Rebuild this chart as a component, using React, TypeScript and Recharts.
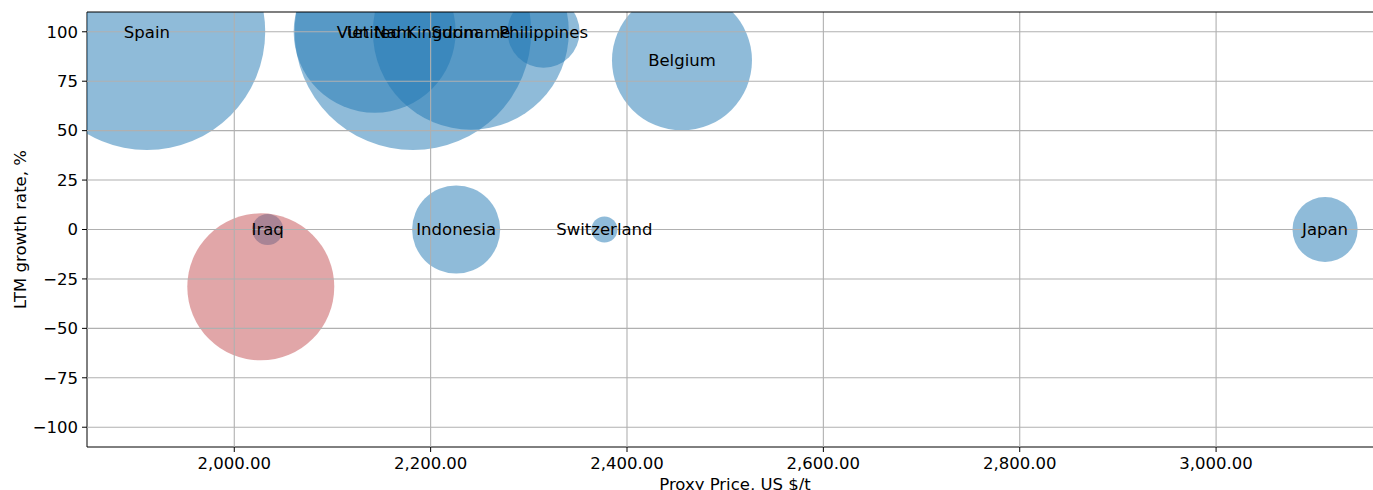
import {
  LabelList,
  ReferenceLine,
  Scatter,
  ScatterChart,
  XAxis,
  YAxis,
  ZAxis,
} from "recharts";

// countries with their proxy price (US $/t), LTM growth (%) and bubble size (volume)
const countries = [
  "Spain",
  "Viet Nam",
  "United Kingdom",
  "Suriname",
  "Philippines",
  "Belgium",
  "Indonesia",
  "Iraq",
  "Switzerland",
  "Japan",
];
const prices = [1911, 2143, 2182, 2241, 2315, 2456, 2226, 2034, 2377, 3111];
const growth = [100, 100, 100, 100, 100, 85.5, 0, 0, 0, 0];
const volumes = [14000, 6560, 14000, 9600, 1300, 4900, 1940, 240, 170, 1060];

// the declining bubble (no label in the source)
const declinePrices = [2027];
const declineGrowth = [-29];
const declineVolumes = [5400];

const xTicks = [2000, 2200, 2400, 2600, 2800, 3000];
const yTicks = [-100, -75, -50, -25, 0, 25, 50, 75, 100];

const FONT = "'DejaVu Sans', sans-serif";
const BLUE = "rgba(31,119,180,0.5)";
const RED = "rgba(196,78,82,0.5)";

const growthData = countries.map((name, i) => ({
  name,
  price: prices[i],
  growth: growth[i],
  size: volumes[i],
}));

const declineData = declinePrices.map((p, i) => ({
  price: p,
  growth: declineGrowth[i],
  size: declineVolumes[i],
}));

const fmtPrice = (v: number) =>
  Number(v).toLocaleString("en-US", { minimumFractionDigits: 2, maximumFractionDigits: 2 });
const fmtGrowth = (v: number) => String(v).replace("-", "\u2212");

const bubble = (fill: string) => (p: any) => {
  const r = Math.sqrt(Math.max(p.size ?? 0, 0) / Math.PI);
  return <circle cx={p.cx} cy={p.cy} r={r} fill={fill} />;
};

export default function App() {
  return (
    <div
      style={{
        position: "fixed",
        left: 0,
        top: 0,
        width: 1373,
        height: 490,
        overflow: "hidden",
        background: "#fff",
      }}
    >
      <ScatterChart
        width={1383}
        height={490}
        margin={{ top: 12, right: 0, bottom: 0, left: 0 }}
      >
        <XAxis
          type="number"
          dataKey="price"
          domain={[1850, 3170]}
          ticks={xTicks}
          allowDataOverflow
          tickFormatter={fmtPrice}
          height={43}
          tickSize={5}
          tickMargin={5}
          stroke="#000"
          tick={{ fill: "#000", fontSize: 16.5, fontFamily: FONT }}
          label={{
            content: (props: any) => {
              const vb = props.viewBox;
              return (
                <text
                  x={vb.x + vb.width / 2}
                  y={vb.y + 37}
                  textAnchor="middle"
                  dominantBaseline="central"
                  fontSize={16.5}
                  fontFamily={FONT}
                  fill="#000"
                >
                  Proxy Price, US $/t
                </text>
              );
            },
          }}
        />
        <YAxis
          type="number"
          dataKey="growth"
          domain={[-110, 110]}
          ticks={yTicks}
          allowDataOverflow
          tickFormatter={fmtGrowth}
          width={87}
          tickSize={5}
          tickMargin={4}
          stroke="#000"
          tick={{ fill: "#000", fontSize: 16.5, fontFamily: FONT }}
          label={{
            content: (props: any) => {
              const vb = props.viewBox;
              const cx = 20;
              const cy = vb.y + vb.height / 2;
              return (
                <text
                  x={cx}
                  y={cy}
                  transform={`rotate(-90 ${cx} ${cy})`}
                  textAnchor="middle"
                  dominantBaseline="central"
                  fontSize={16.5}
                  fontFamily={FONT}
                  fill="#000"
                >
                  LTM growth rate, %
                </text>
              );
            },
          }}
        />
        <ZAxis type="number" dataKey="size" domain={[0, 14000]} range={[0, 14000 * Math.PI]} />

        <Scatter data={growthData} shape={bubble(BLUE)} isAnimationActive={false} />
        <Scatter data={declineData} shape={bubble(RED)} isAnimationActive={false} />

        {xTicks.map((t) => (
          <ReferenceLine key={"x" + t} x={t} stroke="#b0b0b0" strokeWidth={1.1} zIndex={700} />
        ))}
        {yTicks.map((t) => (
          <ReferenceLine key={"y" + t} y={t} stroke="#b0b0b0" strokeWidth={1.1} zIndex={700} />
        ))}
        <ReferenceLine y={110} stroke="#000" strokeWidth={1.1} zIndex={700} />

        <Scatter data={growthData} shape={() => <g />} isAnimationActive={false}>
          <LabelList
            dataKey="name"
            position="center"
            fill="#000"
            fontSize={16.5}
            fontFamily={FONT}
          />
        </Scatter>
      </ScatterChart>
    </div>
  );
}
